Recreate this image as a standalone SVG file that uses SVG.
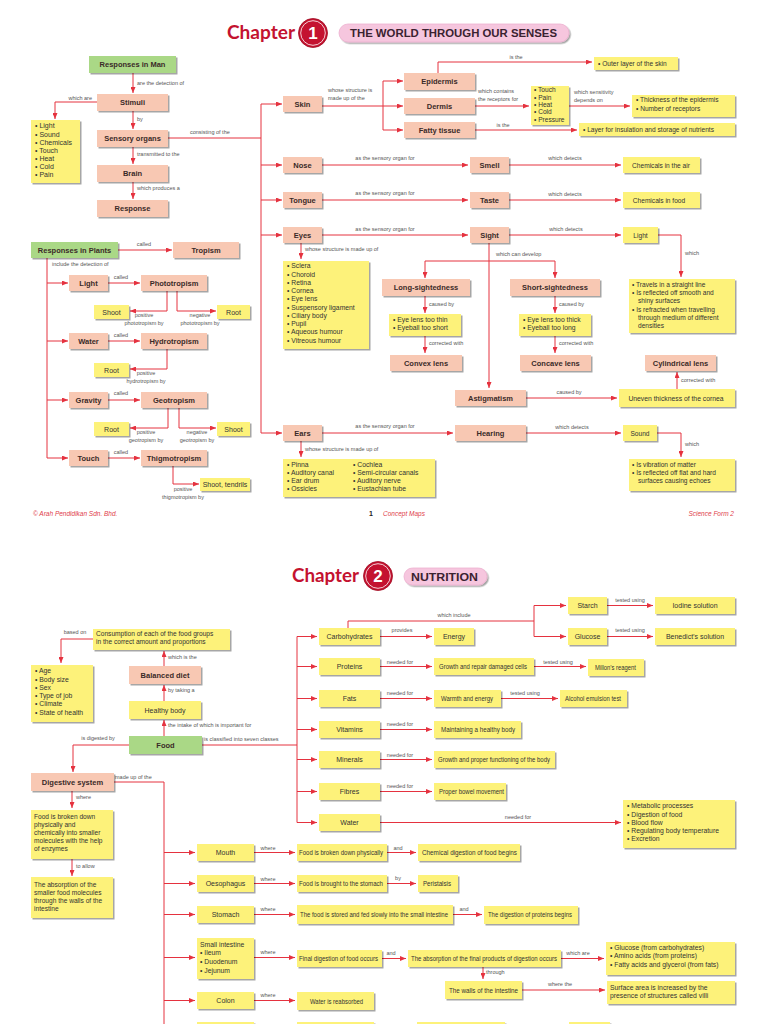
<svg xmlns="http://www.w3.org/2000/svg" width="768" height="1024" viewBox="0 0 768 1024">
<defs>
<filter id="s" x="-10%" y="-20%" width="130%" height="160%"><feDropShadow dx="1.5" dy="1.5" stdDeviation="0.7" flood-color="#000" flood-opacity="0.35"/></filter>
<marker id="ar" viewBox="0 0 6 5" refX="6" refY="2.5" markerWidth="6" markerHeight="5" orient="auto" markerUnits="userSpaceOnUse"><path d="M0,0 L6,2.5 L0,5 z" fill="#e5323f"/></marker>
<style>
text{font-family:"Liberation Sans",Arial,sans-serif;fill:#333}
.n{font-size:7.5px;font-weight:bold;text-anchor:middle;fill:#3a2a28}
.m{text-anchor:middle}
.e{text-anchor:end}
.l{font-size:5.5px;fill:#555}
.y{font-size:6.6px}
.c{font-size:7px;text-anchor:middle}
.pk{fill:#f8c8b3;filter:url(#s)}
.yl{fill:#fdf27a;filter:url(#s)}
.gr{fill:#aad886;filter:url(#s)}
.ch{font-family:Lato,"Liberation Sans",sans-serif;font-weight:bold;font-size:19px;fill:#c41230}
.cn{font-family:"Liberation Sans",sans-serif;font-weight:bold;font-size:17px;fill:#fff;text-anchor:middle}
.ti{font-family:"Liberation Sans",sans-serif;font-weight:bold;font-size:10px;fill:#3a2230}
.ft{font-size:6.5px;font-style:italic;fill:#e0404a}
#connectors path{fill:none;stroke:#e5323f;stroke-width:1}
#connectors path.a{marker-end:url(#ar)}
</style>
</defs>
<rect width="768" height="1024" fill="#fff"/>

<!-- Chapter 1 header -->
<g id="ch1-header">
<text class="ch" x="227" y="39" textLength="68" lengthAdjust="spacingAndGlyphs">Chapter</text>
<circle cx="313" cy="33" r="14.5" fill="#c41230" stroke="#9e0c22" stroke-width="0.8"/>
<circle cx="313" cy="33" r="12.3" fill="none" stroke="#fff" stroke-width="0.8"/>
<text class="cn" x="313" y="39">1</text>
<rect x="339" y="24" width="230" height="18" rx="9" fill="#f6c6de" stroke="#eeb0cf" stroke-width="0.8" filter="url(#s)"/>
<text class="ti" x="350" y="37" textLength="207" lengthAdjust="spacingAndGlyphs">THE WORLD THROUGH OUR SENSES</text>
</g>

<g id="connectors">
<path class="a" d="M133,73V93"/>
<path class="a" d="M97,102H55V119"/>
<path class="a" d="M133,111V129"/>
<path class="a" d="M133,147V164"/>
<path class="a" d="M133,182V199"/>
<path class="a" d="M118,250H172"/>
<path d="M47,258V458"/>
<path class="a" d="M47,283H68"/>
<path class="a" d="M47,341H68"/>
<path class="a" d="M47,400H68"/>
<path class="a" d="M47,458H68"/>
<path class="a" d="M108,283H140"/>
<path class="a" d="M108,341H140"/>
<path class="a" d="M108,400H140"/>
<path class="a" d="M108,458H140"/>
<path class="a" d="M167,291V311H130"/>
<path class="a" d="M177,291V311H216"/>
<path class="a" d="M167,349V369H130"/>
<path class="a" d="M168,408V428H130"/>
<path class="a" d="M179,408V428H216"/>
<path class="a" d="M173,466V484H199"/>
<path d="M168,138H261"/>
<path d="M261,104V433"/>
<path class="a" d="M261,104H282"/>
<path class="a" d="M261,165H282"/>
<path class="a" d="M261,200H282"/>
<path class="a" d="M261,235H282"/>
<path class="a" d="M261,433H282"/>
<path class="a" d="M322,106H403"/>
<path d="M383,81V130"/>
<path class="a" d="M383,81H403"/>
<path class="a" d="M383,130H403"/>
<path class="a" d="M438,73V62H592"/>
<path class="a" d="M475,106H529"/>
<path class="a" d="M569,106H630"/>
<path class="a" d="M475,130H577"/>
<path class="a" d="M322,165H468"/>
<path class="a" d="M509,165H621"/>
<path class="a" d="M322,200H468"/>
<path class="a" d="M509,200H621"/>
<path class="a" d="M322,235H468"/>
<path class="a" d="M509,235H621"/>
<path class="a" d="M658,235H681V277"/>
<path class="a" d="M301,243V259"/>
<path class="a" d="M489,243V388"/>
<path class="a" d="M489,261H425V278"/>
<path class="a" d="M489,261H555V278"/>
<path class="a" d="M425,296V313"/>
<path class="a" d="M425,336V353"/>
<path class="a" d="M555,296V313"/>
<path class="a" d="M555,336V353"/>
<path class="a" d="M526,398H617"/>
<path class="a" d="M677,389V372"/>
<path class="a" d="M322,433H453"/>
<path class="a" d="M526,433H621"/>
<path class="a" d="M657,433H681V457"/>
<path class="a" d="M301,441V457"/>
<!-- chapter 2 -->
<path class="a" d="M93,639H61V663"/>
<path class="a" d="M164,666V651"/>
<path class="a" d="M164,701V685"/>
<path class="a" d="M164,736V720"/>
<path class="a" d="M129,745H73V772"/>
<path d="M202,745H297"/>
<path d="M297,636.5V822.5"/>
<path class="a" d="M297,636.5H317"/>
<path class="a" d="M297,666.5H317"/>
<path class="a" d="M297,698.5H317"/>
<path class="a" d="M297,729.5H317"/>
<path class="a" d="M297,759.5H317"/>
<path class="a" d="M297,791.5H317"/>
<path class="a" d="M297,822.5H317"/>
<path class="a" d="M380,636.5H432"/>
<path d="M348,628V621H534"/>
<path d="M534,605.5V636.5"/>
<path class="a" d="M534,605.5H566"/>
<path class="a" d="M534,636.5H566"/>
<path class="a" d="M607,605.5H653"/>
<path class="a" d="M607,636.5H653"/>
<path class="a" d="M380,666.5H432"/>
<path class="a" d="M534,666.5H586"/>
<path class="a" d="M380,698.5H432"/>
<path class="a" d="M501,698.5H558"/>
<path class="a" d="M380,729.5H432"/>
<path class="a" d="M380,759.5H432"/>
<path class="a" d="M380,791.5H432"/>
<path class="a" d="M380,822.5H621"/>
<path d="M114,782H164V1024"/>
<path class="a" d="M72,791V808"/>
<path class="a" d="M72,859V876"/>
<path class="a" d="M164,852.5H195"/>
<path class="a" d="M164,883.5H195"/>
<path class="a" d="M164,914.5H195"/>
<path class="a" d="M164,957.5H195"/>
<path class="a" d="M164,1000.5H195"/>
<path class="a" d="M254,852.5H295"/>
<path class="a" d="M387,852.5H416"/>
<path class="a" d="M254,883.5H295"/>
<path class="a" d="M387,883.5H416"/>
<path class="a" d="M254,914.5H295"/>
<path class="a" d="M453,914.5H482"/>
<path class="a" d="M254,957.5H295"/>
<path class="a" d="M382,958.5H406"/>
<path class="a" d="M561,958.5H604"/>
<path class="a" d="M483,967V979"/>
<path class="a" d="M522,990H605"/>
<path class="a" d="M254,1000.5H295"/>
</g>

<g id="labels" class="l">
<text class="l" x="137" y="85">are the detection of</text>
<text class="l e" x="92" y="100">which are</text>
<text class="l" x="137" y="121">by</text>
<text class="l" x="190" y="134">consisting of the</text>
<text class="l" x="137" y="156">transmitted to the</text>
<text class="l" x="137" y="190">which produces a</text>
<text class="l m" x="144" y="246">called</text>
<text class="l" x="52" y="266">include the detection of</text>
<text class="l m" x="121" y="279">called</text>
<text class="l m" x="121" y="337">called</text>
<text class="l m" x="121" y="395">called</text>
<text class="l m" x="121" y="454">called</text>
<text class="l m" x="144" y="317">positive</text>
<text class="l m" x="144" y="324.5">phototropism by</text>
<text class="l m" x="200" y="317">negative</text>
<text class="l m" x="200" y="324.5">phototropism by</text>
<text class="l m" x="146" y="375">positive</text>
<text class="l m" x="146" y="382.5">hydrotropism by</text>
<text class="l m" x="146" y="434">positive</text>
<text class="l m" x="146" y="441.5">geotropism by</text>
<text class="l m" x="197" y="434">negative</text>
<text class="l m" x="197" y="441.5">geotropism by</text>
<text class="l m" x="183" y="491">positive</text>
<text class="l m" x="183" y="498.5">thigmotropism by</text>
<text class="l" x="328" y="92">whose structure is</text>
<text class="l" x="328" y="99.5">made up of the</text>
<text class="l m" x="516" y="59">is the</text>
<text class="l" x="478" y="93">which contains</text>
<text class="l" x="478" y="100.5">the receptors for</text>
<text class="l" x="574" y="93.5">which sensitivity</text>
<text class="l" x="574" y="101.5">depends on</text>
<text class="l m" x="503" y="126.5">is the</text>
<text class="l m" x="385" y="159.5">as the sensory organ for</text>
<text class="l m" x="385" y="195">as the sensory organ for</text>
<text class="l m" x="385" y="230.5">as the sensory organ for</text>
<text class="l m" x="565" y="160">which detects</text>
<text class="l m" x="565" y="195.5">which detects</text>
<text class="l m" x="566" y="230.5">which detects</text>
<text class="l" x="305" y="250.5">whose structure is made up of</text>
<text class="l" x="496" y="256">which can develop</text>
<text class="l" x="685" y="255">which</text>
<text class="l" x="429" y="306.3">caused by</text>
<text class="l" x="429" y="345">corrected with</text>
<text class="l" x="559" y="306.3">caused by</text>
<text class="l" x="559" y="345">corrected with</text>
<text class="l" x="681" y="382">corrected with</text>
<text class="l m" x="569" y="393.5">caused by</text>
<text class="l m" x="385" y="428">as the sensory organ for</text>
<text class="l m" x="572" y="428.5">which detects</text>
<text class="l" x="685" y="446">which</text>
<text class="l" x="305" y="451">whose structure is made up of</text>
<!-- chapter 2 -->
<text class="l m" x="75" y="634">based on</text>
<text class="l" x="168" y="658.5">which is the</text>
<text class="l" x="168" y="692">by taking a</text>
<text class="l" x="168" y="727">the intake of which is important for</text>
<text class="l m" x="98" y="740">is digested by</text>
<text class="l" x="204" y="741.3">is classified into seven classes</text>
<text class="l m" x="454" y="617">which include</text>
<text class="l m" x="402" y="631.5">provides</text>
<text class="l m" x="630" y="602">tested using</text>
<text class="l m" x="630" y="632">tested using</text>
<text class="l m" x="400" y="663.5">needed for</text>
<text class="l m" x="558" y="663.5">tested using</text>
<text class="l m" x="400" y="695">needed for</text>
<text class="l m" x="525" y="695">tested using</text>
<text class="l m" x="400" y="725.5">needed for</text>
<text class="l m" x="400" y="756.5">needed for</text>
<text class="l m" x="400" y="787.5">needed for</text>
<text class="l m" x="518" y="819">needed for</text>
<text class="l" x="115" y="778.5">made up of the</text>
<text class="l" x="76" y="799">where</text>
<text class="l" x="76" y="868">to allow</text>
<text class="l m" x="268" y="849.5">where</text>
<text class="l m" x="398" y="849.5">and</text>
<text class="l m" x="268" y="880.5">where</text>
<text class="l m" x="398" y="880">by</text>
<text class="l m" x="268" y="911">where</text>
<text class="l m" x="464" y="911">and</text>
<text class="l m" x="268" y="954">where</text>
<text class="l m" x="391" y="954.5">and</text>
<text class="l m" x="578" y="954.5">which are</text>
<text class="l" x="486" y="974">through</text>
<text class="l m" x="560" y="986">where the</text>
<text class="l m" x="268" y="996.5">where</text>
</g>

<!-- Chapter 1 nodes: Responses in Man -->
<g id="responses-man"><rect class="gr" x="89" y="56" width="87" height="17"/><text class="n" x="132.5" y="67.3">Responses in Man</text></g>
<g id="stimuli"><rect class="pk" x="97" y="94" width="71" height="17"/><text class="n" x="132.5" y="105.3">Stimuli</text></g>
<g id="stimuli-list"><rect class="yl" x="31" y="120" width="49" height="63"/>
<text class="y" style="font-size:7px"><tspan x="35" y="128.3">• Light</tspan><tspan x="35" y="136.5">• Sound</tspan><tspan x="35" y="144.6">• Chemicals</tspan><tspan x="35" y="152.8">• Touch</tspan><tspan x="35" y="161">• Heat</tspan><tspan x="35" y="169.1">• Cold</tspan><tspan x="35" y="177.3">• Pain</tspan></text></g>
<g id="sensory-organs"><rect class="pk" x="97" y="130" width="71" height="17"/><text class="n" x="132.5" y="141.3">Sensory organs</text></g>
<g id="brain"><rect class="pk" x="97" y="165" width="71" height="17"/><text class="n" x="132.5" y="176.3">Brain</text></g>
<g id="response"><rect class="pk" x="97" y="200" width="71" height="17"/><text class="n" x="132.5" y="211.3">Response</text></g>

<!-- Plants -->
<g id="responses-plants"><rect class="gr" x="31" y="242" width="87" height="16"/><text class="n" x="74.5" y="252.8">Responses in Plants</text></g>
<g id="tropism"><rect class="pk" x="173" y="242" width="66" height="16"/><text class="n" x="206" y="252.8">Tropism</text></g>
<g id="light"><rect class="pk" x="69" y="275" width="39" height="16"/><text class="n" x="88.5" y="285.8">Light</text></g>
<g id="phototropism"><rect class="pk" x="141" y="275" width="66" height="16"/><text class="n" x="174" y="285.8">Phototropism</text></g>
<g id="photo-shoot"><rect class="yl" x="94" y="305" width="35" height="14"/><text class="c" x="111.5" y="314.5">Shoot</text></g>
<g id="photo-root"><rect class="yl" x="217" y="305" width="33" height="14"/><text class="c" x="233.5" y="314.5">Root</text></g>
<g id="water"><rect class="pk" x="69" y="333" width="39" height="16"/><text class="n" x="88.5" y="343.8">Water</text></g>
<g id="hydrotropism"><rect class="pk" x="141" y="333" width="66" height="16"/><text class="n" x="174" y="343.8">Hydrotropism</text></g>
<g id="hydro-root"><rect class="yl" x="94" y="363" width="35" height="14"/><text class="c" x="111.5" y="372.5">Root</text></g>
<g id="gravity"><rect class="pk" x="69" y="392" width="39" height="16"/><text class="n" x="88.5" y="402.8">Gravity</text></g>
<g id="geotropism"><rect class="pk" x="141" y="392" width="66" height="16"/><text class="n" x="174" y="402.8">Geotropism</text></g>
<g id="geo-root"><rect class="yl" x="94" y="422" width="35" height="14"/><text class="c" x="111.5" y="431.5">Root</text></g>
<g id="geo-shoot"><rect class="yl" x="217" y="422" width="33" height="14"/><text class="c" x="233.5" y="431.5">Shoot</text></g>
<g id="touch"><rect class="pk" x="69" y="450" width="39" height="16"/><text class="n" x="88.5" y="460.8">Touch</text></g>
<g id="thigmotropism"><rect class="pk" x="141" y="450" width="66" height="16"/><text class="n" x="174" y="460.8">Thigmotropism</text></g>
<g id="shoot-tendrils"><rect class="yl" x="200" y="478" width="50" height="13"/><text class="c" x="225" y="487">Shoot, tendrils</text></g>

<!-- Sense organs -->
<g id="skin"><rect class="pk" x="283" y="96" width="39" height="16"/><text class="n" x="302.5" y="106.8">Skin</text></g>
<g id="epidermis"><rect class="pk" x="404" y="73" width="71" height="17"/><text class="n" x="439.5" y="84.3">Epidermis</text></g>
<g id="dermis"><rect class="pk" x="404" y="98" width="71" height="16"/><text class="n" x="439.5" y="108.8">Dermis</text></g>
<g id="fatty-tissue"><rect class="pk" x="404" y="122" width="71" height="16"/><text class="n" x="439.5" y="132.8">Fatty tissue</text></g>
<g id="outer-layer"><rect class="yl" x="594" y="57" width="84" height="13"/><text class="y" x="598" y="66">• Outer layer of the skin</text></g>
<g id="receptors"><rect class="yl" x="531" y="86" width="38" height="39"/>
<text class="y"><tspan x="534" y="92.3">• Touch</tspan><tspan x="534" y="99.6">• Pain</tspan><tspan x="534" y="106.9">• Heat</tspan><tspan x="534" y="114.2">• Cold</tspan><tspan x="534" y="121.5">• Pressure</tspan></text></g>
<g id="sensitivity"><rect class="yl" x="632" y="95" width="103" height="22"/>
<text class="y"><tspan x="636" y="102.3">• Thickness of the epidermis</tspan><tspan x="636" y="110.5">• Number of receptors</tspan></text></g>
<g id="insulation"><rect class="yl" x="579" y="123" width="156" height="13"/><text class="y" x="583" y="131.8">• Layer for insulation and storage of nutrients</text></g>
<g id="nose"><rect class="pk" x="283" y="157" width="39" height="16"/><text class="n" x="302.5" y="167.8">Nose</text></g>
<g id="smell"><rect class="pk" x="470" y="157" width="39" height="16"/><text class="n" x="489.5" y="167.8">Smell</text></g>
<g id="chem-air"><rect class="yl" x="623" y="157" width="77" height="16"/><text class="y m" x="661" y="167.5">Chemicals in the air</text></g>
<g id="tongue"><rect class="pk" x="283" y="192" width="39" height="16"/><text class="n" x="302.5" y="202.8">Tongue</text></g>
<g id="taste"><rect class="pk" x="470" y="192" width="39" height="16"/><text class="n" x="489.5" y="202.8">Taste</text></g>
<g id="chem-food"><rect class="yl" x="623" y="192" width="77" height="16"/><text class="y m" x="659" y="202.5">Chemicals in food</text></g>
<g id="eyes"><rect class="pk" x="283" y="227" width="39" height="16"/><text class="n" x="302.5" y="237.8">Eyes</text></g>
<g id="sight"><rect class="pk" x="470" y="227" width="39" height="16"/><text class="n" x="489.5" y="237.8">Sight</text></g>
<g id="light-stim"><rect class="yl" x="623" y="227" width="35" height="16"/><text class="y m" x="640.5" y="237.5">Light</text></g>
<g id="light-props"><rect class="yl" x="629" y="279" width="106" height="54"/>
<text class="y"><tspan x="632" y="286.5">• Travels in a straight line</tspan><tspan x="632" y="295">• Is reflected off smooth and</tspan><tspan x="638" y="303.3">shiny surfaces</tspan><tspan x="632" y="311.6">• Is refracted when travelling</tspan><tspan x="638" y="320">through medium of different</tspan><tspan x="638" y="328.3">densities</tspan></text></g>
<g id="eye-parts"><rect class="yl" x="283" y="261" width="86" height="88"/>
<text class="y" style="font-size:6.8px"><tspan x="287" y="268.3">• Sclera</tspan><tspan x="287" y="276.6">• Choroid</tspan><tspan x="287" y="284.8">• Retina</tspan><tspan x="287" y="293.1">• Cornea</tspan><tspan x="287" y="301.3">• Eye lens</tspan><tspan x="287" y="309.6">• Suspensory ligament</tspan><tspan x="287" y="317.9">• Ciliary body</tspan><tspan x="287" y="326.1">• Pupil</tspan><tspan x="287" y="334.4">• Aqueous humour</tspan><tspan x="287" y="342.6">• Vitreous humour</tspan></text></g>
<g id="long-sight"><rect class="pk" x="382" y="279" width="88" height="17"/><text class="n" x="426" y="290.3">Long-sightedness</text></g>
<g id="long-cause"><rect class="yl" x="389" y="314" width="72" height="22"/>
<text class="y" style="font-size:6.8px"><tspan x="393" y="322.3">• Eye lens too thin</tspan><tspan x="393" y="330.3">• Eyeball too short</tspan></text></g>
<g id="convex"><rect class="pk" x="390" y="355" width="72" height="16"/><text class="n" x="426" y="365.8">Convex lens</text></g>
<g id="short-sight"><rect class="pk" x="510" y="279" width="90" height="17"/><text class="n" x="555" y="290.3">Short-sightedness</text></g>
<g id="short-cause"><rect class="yl" x="519" y="314" width="72" height="22"/>
<text class="y" style="font-size:6.8px"><tspan x="523" y="322.3">• Eye lens too thick</tspan><tspan x="523" y="330.3">• Eyeball too long</tspan></text></g>
<g id="concave"><rect class="pk" x="520" y="355" width="71" height="16"/><text class="n" x="555.5" y="365.8">Concave lens</text></g>
<g id="astigmatism"><rect class="pk" x="455" y="390" width="71" height="16"/><text class="n" x="490.5" y="400.8">Astigmatism</text></g>
<g id="uneven"><rect class="yl" x="619" y="389" width="116" height="18"/><text class="y m" style="font-size:6.8px" x="676" y="400.5">Uneven thickness of the cornea</text></g>
<g id="cylindrical"><rect class="pk" x="645" y="355" width="71" height="16"/><text class="n" x="680.5" y="365.8">Cylindrical lens</text></g>
<g id="ears"><rect class="pk" x="283" y="425" width="39" height="16"/><text class="n" x="302.5" y="435.8">Ears</text></g>
<g id="hearing"><rect class="pk" x="455" y="425" width="71" height="16"/><text class="n" x="490.5" y="435.8">Hearing</text></g>
<g id="sound"><rect class="yl" x="623" y="425" width="34" height="16"/><text class="y m" x="640" y="435.5">Sound</text></g>
<g id="sound-props"><rect class="yl" x="629" y="459" width="106" height="32"/>
<text class="y"><tspan x="632" y="466.6">• Is vibration of matter</tspan><tspan x="632" y="475">• Is reflected off flat and hard</tspan><tspan x="638" y="483">surfaces causing echoes</tspan></text></g>
<g id="ear-parts"><rect class="yl" x="283" y="459" width="152" height="38"/>
<text class="y" style="font-size:6.8px"><tspan x="287" y="466.5">• Pinna</tspan><tspan x="287" y="474.7">• Auditory canal</tspan><tspan x="287" y="482.6">• Ear drum</tspan><tspan x="287" y="490.8">• Ossicles</tspan><tspan x="353" y="466.5">• Cochlea</tspan><tspan x="353" y="474.7">• Semi-circular canals</tspan><tspan x="353" y="482.6">• Auditory nerve</tspan><tspan x="353" y="490.8">• Eustachian tube</tspan></text></g>

<!-- footer -->
<g id="footer">
<text class="ft" x="33" y="516">© Arah Pendidikan Sdn. Bhd.</text>
<text x="369" y="516" style="font-size:7px;font-weight:bold;fill:#222">1</text>
<text class="ft" x="383" y="516">Concept Maps</text>
<text class="ft e" x="734" y="516">Science Form 2</text>
</g>

<!-- Chapter 2 header -->
<g id="ch2-header">
<text class="ch" x="292" y="582" textLength="67" lengthAdjust="spacingAndGlyphs">Chapter</text>
<circle cx="378" cy="576" r="14.5" fill="#c41230" stroke="#9e0c22" stroke-width="0.8"/>
<circle cx="378" cy="576" r="12.3" fill="none" stroke="#fff" stroke-width="0.8"/>
<text class="cn" x="378" y="582">2</text>
<rect x="404" y="568" width="83" height="17" rx="8.5" fill="#f6c6de" stroke="#eeb0cf" stroke-width="0.8" filter="url(#s)"/>
<text class="ti" x="411" y="580.5" textLength="67" lengthAdjust="spacingAndGlyphs">NUTRITION</text>
</g>

<!-- Chapter 2 nodes -->
<g id="consumption"><rect class="yl" x="93" y="629" width="137" height="21"/>
<text class="y"><tspan x="96" y="636">Consumption of each of the food groups</tspan><tspan x="96" y="644.3">in the correct amount and proportions</tspan></text></g>
<g id="factors"><rect class="yl" x="31" y="665" width="62" height="57"/>
<text class="y" style="font-size:6.8px"><tspan x="35" y="673.3">• Age</tspan><tspan x="35" y="681.5">• Body size</tspan><tspan x="35" y="689.8">• Sex</tspan><tspan x="35" y="698">• Type of job</tspan><tspan x="35" y="706.3">• Climate</tspan><tspan x="35" y="714.6">• State of health</tspan></text></g>
<g id="balanced-diet"><rect class="pk" x="129" y="666" width="72" height="18"/><text class="n" x="165" y="677.7">Balanced diet</text></g>
<g id="healthy-body"><rect class="yl" x="129" y="701" width="72" height="18"/><text class="c" x="165" y="712.5">Healthy body</text></g>
<g id="food"><rect class="gr" x="129" y="736" width="73" height="18"/><text class="n" x="165.5" y="747.7">Food</text></g>
<g id="carbohydrates"><rect class="yl" x="319" y="628" width="61" height="17"/><text class="c" x="349.5" y="639">Carbohydrates</text></g>
<g id="energy"><rect class="yl" x="434" y="628" width="40" height="17"/><text class="c" x="454" y="639">Energy</text></g>
<g id="starch"><rect class="yl" x="568" y="597" width="39" height="17"/><text class="c" x="587.5" y="608">Starch</text></g>
<g id="iodine"><rect class="yl" x="655" y="597" width="80" height="17"/><text class="c" x="695" y="608">Iodine solution</text></g>
<g id="glucose"><rect class="yl" x="568" y="628" width="39" height="17"/><text class="c" x="587.5" y="639">Glucose</text></g>
<g id="benedicts"><rect class="yl" x="655" y="628" width="80" height="17"/><text class="c" x="695" y="639">Benedict’s solution</text></g>
<g id="proteins"><rect class="yl" x="319" y="658" width="61" height="17"/><text class="c" x="349.5" y="669">Proteins</text></g>
<g id="growth-repair"><rect class="yl" x="434" y="658" width="100" height="17"/><text class="y" x="439" y="669" textLength="88" lengthAdjust="spacingAndGlyphs">Growth and repair damaged cells</text></g>
<g id="millons"><rect class="yl" x="588" y="659" width="56" height="17"/><text class="y" x="595" y="670" textLength="41" lengthAdjust="spacingAndGlyphs">Millon’s reagent</text></g>
<g id="fats"><rect class="yl" x="319" y="690" width="61" height="17"/><text class="c" x="349.5" y="701">Fats</text></g>
<g id="warmth"><rect class="yl" x="434" y="690" width="67" height="17"/><text class="y" x="441" y="701" textLength="52" lengthAdjust="spacingAndGlyphs">Warmth and energy</text></g>
<g id="alcohol"><rect class="yl" x="560" y="690" width="67" height="17"/><text class="y" x="565" y="701" textLength="56" lengthAdjust="spacingAndGlyphs">Alcohol emulsion test</text></g>
<g id="vitamins"><rect class="yl" x="319" y="721" width="61" height="17"/><text class="c" x="349.5" y="732">Vitamins</text></g>
<g id="maintaining"><rect class="yl" x="434" y="721" width="87" height="17"/><text class="y" x="441" y="732" textLength="74" lengthAdjust="spacingAndGlyphs">Maintaining a healthy body</text></g>
<g id="minerals"><rect class="yl" x="319" y="751" width="61" height="17"/><text class="c" x="349.5" y="762">Minerals</text></g>
<g id="growth-proper"><rect class="yl" x="434" y="751" width="121" height="17"/><text class="y" x="438" y="762" textLength="112" lengthAdjust="spacingAndGlyphs">Growth and proper functioning of the body</text></g>
<g id="fibres"><rect class="yl" x="319" y="783" width="61" height="17"/><text class="c" x="349.5" y="794">Fibres</text></g>
<g id="bowel"><rect class="yl" x="434" y="783" width="72" height="17"/><text class="y" x="439" y="794" textLength="65" lengthAdjust="spacingAndGlyphs">Proper bowel movement</text></g>
<g id="water-c2"><rect class="yl" x="319" y="814" width="61" height="17"/><text class="c" x="349.5" y="825">Water</text></g>
<g id="water-uses"><rect class="yl" x="623" y="800" width="112" height="48"/>
<text class="y" style="font-size:6.8px"><tspan x="627" y="807.6">• Metabolic processes</tspan><tspan x="627" y="816.6">• Digestion of food</tspan><tspan x="627" y="824.6">• Blood flow</tspan><tspan x="627" y="832.6">• Regulating body temperature</tspan><tspan x="627" y="841">• Excretion</tspan></text></g>
<g id="digestive-system"><rect class="pk" x="31" y="773" width="83" height="18"/><text class="n" x="72.5" y="784.7">Digestive system</text></g>
<g id="broken-down"><rect class="yl" x="31" y="810" width="82" height="49"/>
<text class="y"><tspan x="34" y="818.6">Food is broken down</tspan><tspan x="34" y="827">physically and</tspan><tspan x="34" y="835">chemically into smaller</tspan><tspan x="34" y="843">molecules with the help</tspan><tspan x="34" y="851">of enzymes</tspan></text></g>
<g id="absorption"><rect class="yl" x="31" y="877" width="82" height="41"/>
<text class="y"><tspan x="34" y="886.6">The absorption of the</tspan><tspan x="34" y="895">smaller food molecules</tspan><tspan x="34" y="903">through the walls of the</tspan><tspan x="34" y="911">intestine</tspan></text></g>
<g id="mouth"><rect class="yl" x="197" y="844" width="57" height="17"/><text class="c" x="225.5" y="855">Mouth</text></g>
<g id="mouth-1"><rect class="yl" x="297" y="844" width="90" height="17"/><text class="y" x="299" y="855" textLength="84" lengthAdjust="spacingAndGlyphs">Food is broken down physically</text></g>
<g id="mouth-2"><rect class="yl" x="418" y="844" width="102" height="17"/><text class="y" x="422" y="855" textLength="95" lengthAdjust="spacingAndGlyphs">Chemical digestion of food begins</text></g>
<g id="oesophagus"><rect class="yl" x="197" y="875" width="57" height="17"/><text class="c" x="225.5" y="886">Oesophagus</text></g>
<g id="oes-1"><rect class="yl" x="297" y="875" width="90" height="17"/><text class="y" x="299" y="886" textLength="84" lengthAdjust="spacingAndGlyphs">Food is brought to the stomach</text></g>
<g id="peristalsis"><rect class="yl" x="418" y="875" width="40" height="17"/><text class="y" x="423" y="886" textLength="28" lengthAdjust="spacingAndGlyphs">Peristalsis</text></g>
<g id="stomach"><rect class="yl" x="197" y="906" width="57" height="17"/><text class="c" x="225.5" y="917">Stomach</text></g>
<g id="stomach-1"><rect class="yl" x="297" y="905" width="156" height="19"/><text class="y" x="300" y="916.5" textLength="148" lengthAdjust="spacingAndGlyphs">The food is stored and fed slowly into the small intestine</text></g>
<g id="stomach-2"><rect class="yl" x="484" y="906" width="94" height="18"/><text class="y" x="488" y="917" textLength="84" lengthAdjust="spacingAndGlyphs">The digestion of proteins begins</text></g>
<g id="small-intestine"><rect class="yl" x="197" y="938" width="57" height="41"/>
<text class="y" style="font-size:6.8px"><tspan x="200" y="947">Small intestine</tspan><tspan x="200" y="955.3">• Ileum</tspan><tspan x="200" y="964.3">• Duodenum</tspan><tspan x="200" y="972.6">• Jejunum</tspan></text></g>
<g id="si-1"><rect class="yl" x="297" y="950" width="85" height="17"/><text class="y" x="299" y="961" textLength="79" lengthAdjust="spacingAndGlyphs">Final digestion of food occurs</text></g>
<g id="si-2"><rect class="yl" x="408" y="950" width="153" height="17"/><text class="y" x="411" y="961" textLength="146" lengthAdjust="spacingAndGlyphs">The absorption of the final products of digestion occurs</text></g>
<g id="products"><rect class="yl" x="606" y="942" width="129" height="33"/>
<text class="y" style="font-size:6.8px"><tspan x="610" y="950.3">• Glucose (from carbohydrates)</tspan><tspan x="610" y="958.3">• Amino acids (from proteins)</tspan><tspan x="610" y="966.6">• Fatty acids and glycerol (from fats)</tspan></text></g>
<g id="walls"><rect class="yl" x="445" y="981" width="77" height="18"/><text class="y" x="449" y="992.5" textLength="69" lengthAdjust="spacingAndGlyphs">The walls of the intestine</text></g>
<g id="villi"><rect class="yl" x="607" y="981" width="128" height="23"/>
<text class="y" style="font-size:6.8px"><tspan x="610" y="990">Surface area is increased by the</tspan><tspan x="610" y="998">presence of structures called villi</tspan></text></g>
<g id="colon"><rect class="yl" x="197" y="992" width="57" height="17"/><text class="c" x="225.5" y="1003">Colon</text></g>
<g id="colon-1"><rect class="yl" x="297" y="992" width="77" height="18"/><text class="y" x="310" y="1003.5" textLength="53" lengthAdjust="spacingAndGlyphs">Water is reabsorbed</text></g>
<g id="cut-off-row">
<rect class="yl" x="197" y="1022" width="57" height="6"/>
<rect class="yl" x="297" y="1022" width="77" height="6"/>
<rect class="yl" x="417" y="1022" width="88" height="6"/>
<rect class="yl" x="569" y="1022" width="41" height="6"/>
</g>
</svg>
